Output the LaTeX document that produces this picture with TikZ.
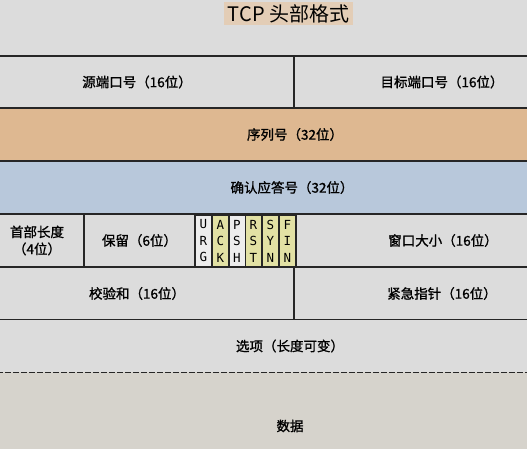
\documentclass[tikz,border=0pt]{standalone}
\usepackage{fontspec}
\setmainfont{Noto Sans CJK SC}
\newfontfamily\labfont[FakeBold=1.2]{Noto Sans CJK SC}
\newfontfamily\flagfont{DejaVu Sans Mono}
\definecolor{bgc}{HTML}{DCDCDC}
\definecolor{orangec}{HTML}{DEB891}
\definecolor{bluec}{HTML}{B8C8DB}
\definecolor{datac}{HTML}{D6D3CC}
\definecolor{titlec}{HTML}{E3CDB6}
\definecolor{flagy}{HTML}{E2E1A4}
\definecolor{flagw}{HTML}{EDEDED}
\definecolor{linec}{HTML}{262626}
\begin{document}
\begin{tikzpicture}[x=1pt,y=-1pt,
  cell/.style={draw=linec, line width=1.2pt, inner sep=0pt, fill=bgc,
    font=\labfont\fontsize{13.5}{17}\selectfont, align=center},
  flagbox/.style={draw=linec, line width=0.9pt, inner sep=0pt,
    minimum width=16pt, minimum height=51pt,
    font=\flagfont\fontsize{12.5}{16.5}\selectfont, align=center},
  titlebox/.style={fill=titlec, inner xsep=4pt, inner ysep=0pt,
    minimum height=23pt, font=\fontsize{20}{22}\selectfont}]
\fill[bgc] (0,0) rectangle (527,448);
\useasboundingbox (0,0) rectangle (527,448);
% title
\node[titlebox] (title) at (288.5,13.5) {TCP 头部格式};
% row 1
\node[cell, minimum width=314pt, minimum height=52pt] (src) at (137,82) {源端口号（16位）};
\node[cell, minimum width=296pt, minimum height=52pt] (dst) at (442,82) {目标端口号（16位）};
% row 2
\node[cell, fill=orangec, minimum width=610pt, minimum height=53pt] (seq) at (295,134.5) {序列号（32位）};
% row 3
\node[cell, fill=bluec, minimum width=604pt, minimum height=53pt] (ack) at (292,187.5) {确认应答号（32位）};
% row 4
\node[cell, minimum width=94pt, minimum height=53pt] (hlen) at (37,240.5) {首部长度\\（4位）};
\node[cell, minimum width=111pt, minimum height=53pt] (rsv) at (139.5,240.5) {保留（6位）};
\node[cell, minimum width=101pt, minimum height=53pt] (flags) at (245.5,240.5) {};
\node[cell, minimum width=294pt, minimum height=53pt] (win) at (443,240.5) {窗口大小（16位）};
\node[flagbox, fill=flagw] (urg) at (203.5,241) {U\\R\\G};
\node[flagbox, fill=flagy] (fack) at (220.5,241) {A\\C\\K};
\node[flagbox, fill=flagw] (psh) at (237,241) {P\\S\\H};
\node[flagbox, fill=flagy] (rst) at (253.5,241) {R\\S\\T};
\node[flagbox, fill=flagy] (syn) at (270.5,241) {S\\Y\\N};
\node[flagbox, fill=flagy] (fin) at (287.5,241) {F\\I\\N};
% row 5
\node[cell, minimum width=314pt, minimum height=53pt] (chk) at (137,293.5) {校验和（16位）};
\node[cell, minimum width=296pt, minimum height=53pt] (urgp) at (442,293.5) {紧急指针（16位）};
% row 6 and data
\node[cell, fill=datac, draw=none, minimum width=600pt, minimum height=108pt] (data) at (290,426) {数据};
\node[cell, draw=none, minimum width=600pt, minimum height=52pt] (opt) at (290,346) {选项（长度可变）};
\draw[linec, line width=1.2pt] (opt.north west) -- (opt.north east);
\draw[linec, line width=1.2pt, dash pattern=on 6pt off 2pt] (opt.south west) -- (opt.south east);
\end{tikzpicture}
\end{document}
